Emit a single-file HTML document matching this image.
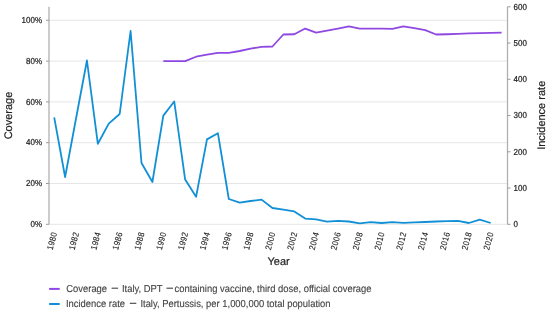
<!DOCTYPE html>
<html><head><meta charset="utf-8"><style>
html,body{margin:0;padding:0;background:#fff;width:550px;height:310px;overflow:hidden}
svg{position:absolute;left:0;top:0;will-change:transform;text-rendering:geometricPrecision;font-family:"Liberation Sans",sans-serif}
.g{stroke:#e6e6e6;stroke-width:1}
.t{stroke:#9a9a9a;stroke-width:1}
.ax{stroke:#b0b0b0;stroke-width:1.3}
.tl{font-size:8px;fill:#222;stroke:#222;stroke-width:0.2}
.xl{font-size:8px;fill:#222;stroke:#222;stroke-width:0.1;letter-spacing:0.35px}
.at{font-size:11px;fill:#222;stroke:#222;stroke-width:0.2}
.lg{font-size:9.42px;fill:#444;stroke:#444;stroke-width:0.12}
.dsh{fill:#444}
</style></head><body>
<svg width="550" height="310" viewBox="0 0 550 310">
<line x1="49.0" x2="507.5" y1="224.30" y2="224.30" class="g"/><line x1="49.0" x2="507.5" y1="183.50" y2="183.50" class="g"/><line x1="49.0" x2="507.5" y1="142.70" y2="142.70" class="g"/><line x1="49.0" x2="507.5" y1="101.90" y2="101.90" class="g"/><line x1="49.0" x2="507.5" y1="61.10" y2="61.10" class="g"/><line x1="49.0" x2="507.5" y1="20.30" y2="20.30" class="g"/>
<line x1="49.0" x2="49.0" y1="6.8" y2="224.3" class="ax"/>
<line x1="507.5" x2="507.5" y1="6.8" y2="224.3" class="ax"/>
<line x1="46.0" x2="49.0" y1="224.30" y2="224.30" class="t"/><text transform="translate(42.0,227.05) scale(1,1.08)" text-anchor="end" class="tl">0%</text><line x1="46.0" x2="49.0" y1="183.50" y2="183.50" class="t"/><text transform="translate(42.0,186.25) scale(1,1.08)" text-anchor="end" class="tl">20%</text><line x1="46.0" x2="49.0" y1="142.70" y2="142.70" class="t"/><text transform="translate(42.0,145.45) scale(1,1.08)" text-anchor="end" class="tl">40%</text><line x1="46.0" x2="49.0" y1="101.90" y2="101.90" class="t"/><text transform="translate(42.0,104.65) scale(1,1.08)" text-anchor="end" class="tl">60%</text><line x1="46.0" x2="49.0" y1="61.10" y2="61.10" class="t"/><text transform="translate(42.0,63.85) scale(1,1.08)" text-anchor="end" class="tl">80%</text><line x1="46.0" x2="49.0" y1="20.30" y2="20.30" class="t"/><text transform="translate(42.0,23.05) scale(1,1.08)" text-anchor="end" class="tl">100%</text>
<line x1="507.5" x2="510.5" y1="224.30" y2="224.30" class="t"/><text transform="translate(513.5,227.05) scale(1,1.08)" class="tl">0</text><line x1="507.5" x2="510.5" y1="188.05" y2="188.05" class="t"/><text transform="translate(513.5,190.80) scale(1,1.08)" class="tl">100</text><line x1="507.5" x2="510.5" y1="151.80" y2="151.80" class="t"/><text transform="translate(513.5,154.55) scale(1,1.08)" class="tl">200</text><line x1="507.5" x2="510.5" y1="115.55" y2="115.55" class="t"/><text transform="translate(513.5,118.30) scale(1,1.08)" class="tl">300</text><line x1="507.5" x2="510.5" y1="79.30" y2="79.30" class="t"/><text transform="translate(513.5,82.05) scale(1,1.08)" class="tl">400</text><line x1="507.5" x2="510.5" y1="43.05" y2="43.05" class="t"/><text transform="translate(513.5,45.80) scale(1,1.08)" class="tl">500</text><line x1="507.5" x2="510.5" y1="6.80" y2="6.80" class="t"/><text transform="translate(513.5,9.55) scale(1,1.08)" class="tl">600</text>
<text transform="translate(57.30,232.9) rotate(-75) scale(0.95,1.08)" text-anchor="end" class="xl">1980</text><text transform="translate(79.12,232.9) rotate(-75) scale(0.95,1.08)" text-anchor="end" class="xl">1982</text><text transform="translate(100.95,232.9) rotate(-75) scale(0.95,1.08)" text-anchor="end" class="xl">1984</text><text transform="translate(122.77,232.9) rotate(-75) scale(0.95,1.08)" text-anchor="end" class="xl">1986</text><text transform="translate(144.60,232.9) rotate(-75) scale(0.95,1.08)" text-anchor="end" class="xl">1988</text><text transform="translate(166.42,232.9) rotate(-75) scale(0.95,1.08)" text-anchor="end" class="xl">1990</text><text transform="translate(188.25,232.9) rotate(-75) scale(0.95,1.08)" text-anchor="end" class="xl">1992</text><text transform="translate(210.08,232.9) rotate(-75) scale(0.95,1.08)" text-anchor="end" class="xl">1994</text><text transform="translate(231.90,232.9) rotate(-75) scale(0.95,1.08)" text-anchor="end" class="xl">1996</text><text transform="translate(253.72,232.9) rotate(-75) scale(0.95,1.08)" text-anchor="end" class="xl">1998</text><text transform="translate(275.55,232.9) rotate(-75) scale(0.95,1.08)" text-anchor="end" class="xl">2000</text><text transform="translate(297.38,232.9) rotate(-75) scale(0.95,1.08)" text-anchor="end" class="xl">2002</text><text transform="translate(319.20,232.9) rotate(-75) scale(0.95,1.08)" text-anchor="end" class="xl">2004</text><text transform="translate(341.02,232.9) rotate(-75) scale(0.95,1.08)" text-anchor="end" class="xl">2006</text><text transform="translate(362.85,232.9) rotate(-75) scale(0.95,1.08)" text-anchor="end" class="xl">2008</text><text transform="translate(384.68,232.9) rotate(-75) scale(0.95,1.08)" text-anchor="end" class="xl">2010</text><text transform="translate(406.50,232.9) rotate(-75) scale(0.95,1.08)" text-anchor="end" class="xl">2012</text><text transform="translate(428.32,232.9) rotate(-75) scale(0.95,1.08)" text-anchor="end" class="xl">2014</text><text transform="translate(450.15,232.9) rotate(-75) scale(0.95,1.08)" text-anchor="end" class="xl">2016</text><text transform="translate(471.98,232.9) rotate(-75) scale(0.95,1.08)" text-anchor="end" class="xl">2018</text><text transform="translate(493.80,232.9) rotate(-75) scale(0.95,1.08)" text-anchor="end" class="xl">2020</text>
<polyline points="54.20,117.40 65.11,177.00 76.03,118.50 86.94,60.50 97.85,143.80 108.76,123.60 119.67,114.00 130.59,31.00 141.50,163.00 152.41,182.00 163.32,115.60 174.24,101.50 185.15,179.60 196.06,196.80 206.98,139.40 217.89,133.20 228.80,199.00 239.71,202.60 250.62,201.00 261.54,199.60 272.45,208.00 283.36,209.60 294.27,211.40 305.19,218.60 316.10,219.40 327.01,221.60 337.92,220.80 348.84,221.50 359.75,223.30 370.66,222.10 381.57,223.00 392.49,222.10 403.40,222.80 414.31,222.30 425.22,222.00 436.14,221.50 447.05,221.20 457.96,220.80 468.88,223.00 479.79,219.60 490.70,223.00" fill="none" stroke="#1290d6" stroke-width="1.8" stroke-linejoin="round" stroke-linecap="butt"/>
<polyline points="163.32,61.20 174.24,61.20 185.15,61.20 196.06,56.71 206.98,54.67 217.89,52.84 228.80,52.84 239.71,51.00 250.62,48.55 261.54,46.92 272.45,46.51 283.36,34.48 294.27,34.27 305.19,28.56 316.10,32.64 327.01,30.60 337.92,28.56 348.84,26.32 359.75,28.56 370.66,28.56 381.57,28.56 392.49,28.97 403.40,26.32 414.31,28.15 425.22,30.19 436.14,34.48 447.05,34.27 457.96,33.86 468.88,33.46 479.79,33.05 490.70,32.84 501.61,32.64" fill="none" stroke="#9048e2" stroke-width="1.8" stroke-linejoin="round" stroke-linecap="butt"/>
<text x="278.6" y="264.6" text-anchor="middle" class="at">Year</text>
<text transform="translate(12.1,115.5) rotate(-90)" text-anchor="middle" class="at">Coverage</text>
<text transform="translate(545,115.3) rotate(-90)" text-anchor="middle" class="at">Incidence rate</text>
<line x1="49.1" x2="59.7" y1="288.9" y2="288.9" stroke="#9048e2" stroke-width="2"/>
<line x1="49.1" x2="59.7" y1="304" y2="304" stroke="#1290d6" stroke-width="2"/>
<text transform="translate(66.3,291.7) scale(1,1.07)" class="lg">Coverage</text>
<rect x="111.6" y="287.65" width="6.5" height="1.1" class="dsh"/>
<text transform="translate(122.0,291.7) scale(1,1.07)" class="lg">Italy, DPT</text>
<rect x="166.5" y="287.65" width="6.5" height="1.1" class="dsh"/>
<text transform="translate(174.5,291.7) scale(1,1.07)" class="lg">containing vaccine, third dose, official coverage</text>
<text transform="translate(65.9,306.7) scale(1,1.07)" class="lg">Incidence rate</text>
<rect x="129.8" y="302.75" width="6.5" height="1.1" class="dsh"/>
<text transform="translate(140.4,306.7) scale(1,1.07)" class="lg">Italy, Pertussis, per 1,000,000 total population</text>
</svg>
</body></html>
